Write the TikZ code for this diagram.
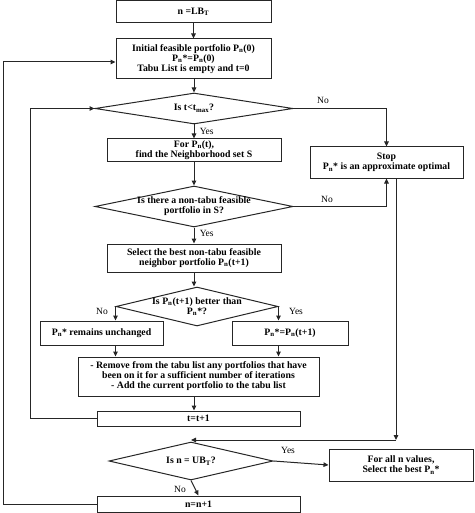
\documentclass[tikz,border=0pt]{standalone}
\usepackage{fontspec}
\setmainfont{Liberation Serif}
\usetikzlibrary{shapes.geometric,arrows.meta}
\tikzset{
  box/.style={draw=black!85, line width=1pt, fill=white, rectangle, inner sep=1pt, align=center, font=\fontsize{9.8}{10}\selectfont\bfseries},
  dia/.style={draw=black!85, line width=1pt, diamond, inner sep=0pt, aspect=1},
  dtext/.style={align=center, font=\fontsize{9.8}{10}\selectfont\bfseries},
  lbl/.style={font=\fontsize{9.5}{10}\selectfont},
  conn/.style={draw=black!85, line width=1pt, -{Triangle[length=5pt,width=4.5pt]}},
  line/.style={draw=black!85, line width=1pt}
}
\begin{document}
\begin{tikzpicture}[x=1pt,y=-1pt]
\useasboundingbox (0,0) rectangle (474,513);
% boxes
\node[box, minimum width=155pt, minimum height=22pt] (n0) at (193.5,12) {n =LB\textsubscript{T}};
\node[box, minimum width=155pt, minimum height=40pt] (init) at (193.5,59) {Initial feasible portfolio P\textsubscript{n}(0)\\P\textsubscript{n}*=P\textsubscript{n}(0)\\Tabu List is empty and t=0};
\node[dia, minimum width=198pt, minimum height=31pt, label={[dtext]center:Is t<t\textsubscript{max}?}] (d1) at (194,108.5) {};
\node[box, minimum width=174pt, minimum height=22pt] (nb) at (194,150) {For P\textsubscript{n}(t),\\find the Neighborhood set S};
\node[box, minimum width=153pt, minimum height=31pt] (stop) at (386.5,162.5) {Stop\\P\textsubscript{n}* is an approximate optimal};
\node[dia, minimum width=198pt, minimum height=41pt, label={[dtext]center:Is there a non-tabu feasible\\portfolio in S?}] (d2) at (194,206.5) {};
\node[box, minimum width=174pt, minimum height=28pt] (sel) at (194,258) {Select the best non-tabu feasible\\neighbor portfolio P\textsubscript{n}(t+1)};
\node[dia, minimum width=162pt, minimum height=39pt, label={[dtext]center:Is P\textsubscript{n}(t+1) better than\\P\textsubscript{n}*?}] (d3) at (197,306.5) {};
\node[box, minimum width=123pt, minimum height=24pt] (unch) at (101.5,333) {P\textsubscript{n}* remains unchanged};
\node[box, minimum width=116pt, minimum height=24pt] (upd) at (290,333) {P\textsubscript{n}*=P\textsubscript{n}(t+1)};
\node[box, minimum width=241pt, minimum height=39pt] (rem) at (198.5,376.5) {- Remove from the tabu list any portfolios that have\\been on it for a sufficient number of iterations\\- Add the current portfolio to the tabu list};
\node[box, minimum width=203pt, minimum height=15pt] (tinc) at (198.5,418.5) {t=t+1};
\node[dia, minimum width=164pt, minimum height=38pt, label={[dtext]center:Is n = UB\textsubscript{T}?}] (d4) at (191,461) {};
\node[box, minimum width=144pt, minimum height=32pt] (best) at (401,465) {For all n values,\\Select the best P\textsubscript{n}*};
\node[box, minimum width=203pt, minimum height=16pt] (ninc) at (198.5,504) {n=n+1};
% helper coordinates
\coordinate (la) at (30,0);
\coordinate (lb) at (3,0);
\coordinate (c1) at (396,440);
% connectors
\draw[conn] (n0.south) -- (init.north);
\draw[conn] (init.south -| d1.north) -- (d1.north);
\draw[conn] (d1.south) -- (nb.north) node[lbl, pos=0.5, right=2pt] {Yes};
\draw[conn] (d1.east) -| (stop.north);
\node[lbl] (no1) at (323,100) {No};
\draw[conn] (nb.south) -- (d2.north);
\draw[conn] (d2.east) -| (stop.south);
\node[lbl] (no2) at (327,199) {No};
\draw[conn] (d2.south) -- (sel.north) node[lbl, pos=0.4, right=2pt] {Yes};
\draw[conn] (sel.south) -- (sel.south |- d3.north);
\draw[conn] (d3.west) -- (d3.west |- unch.north);
\node[lbl] (no3) at (102,311) {No};
\draw[conn] (d3.east) -- (d3.east |- upd.north);
\node[lbl] (yes3) at (296,311) {Yes};
\draw[conn] (unch.south -| d3.west) -- (rem.north -| d3.west);
\draw[conn] (upd.south -| d3.east) -- (rem.north -| d3.east);
\draw[conn] (rem.south -| d1.south) -- (tinc.north -| d1.south);
\draw[conn] (tinc.west) -- (tinc.west -| la) -- (d1.west -| la) -- (d1.west);
\draw[conn] (stop.south -| c1) -- (c1);
\draw[conn] (c1) -- (c1 -| d4.north);
\draw[conn] (d4.east) -- (best.west);
\node[lbl] (yes4) at (288,450) {Yes};
\draw[conn] (d4.south) -- (ninc.north);
\node[lbl] (no4) at (180,489) {No};
\draw[conn] (ninc.west) -- (ninc.west -| lb) -- ([yshift=-3pt]init.west -| lb) -- ([yshift=-3pt]init.west);
\end{tikzpicture}
\end{document}
